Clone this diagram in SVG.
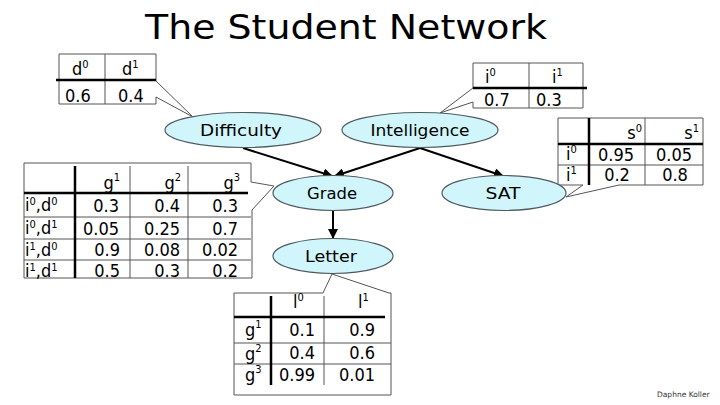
<svg xmlns="http://www.w3.org/2000/svg" width="720" height="405" viewBox="0 0 720 405">
<style>
.title{font-family:"DejaVu Sans","Noto Sans",sans-serif;font-size:34px;fill:#000}
.node ellipse{fill:#d0f5fa;stroke:#4f5a60;stroke-width:1.2}
.lbl{font-family:"DejaVu Sans","Noto Sans",sans-serif;font-size:16.5px;fill:#000;text-anchor:middle}
.box{fill:#fff;stroke:#555;stroke-width:1}
.thick{stroke:#000;stroke-width:2.5;fill:none}
.thin{stroke:#555;stroke-width:1;fill:none}
.t{font-family:"DejaVu Sans Condensed","DejaVu Sans","Noto Sans",sans-serif;font-stretch:condensed;font-size:18px;fill:#000}
.e{text-anchor:end}
.m{text-anchor:middle}
.sup{font-size:11px}
.edge{stroke:#000;stroke-width:2;fill:none;marker-end:url(#ah)}
.credit{font-family:"DejaVu Sans","Noto Sans",sans-serif;font-size:7.5px;fill:#333}
</style>
<defs>
<marker id="ah" viewBox="0 0 10 10" refX="9" refY="5" markerWidth="5" markerHeight="5" orient="auto" markerUnits="strokeWidth">
<path d="M0,0 L10,5 L0,10 Z" fill="#000"/>
</marker>
</defs>
<rect width="720" height="405" fill="#fff"/>
<text class="title" x="145" y="39" textLength="402" lengthAdjust="spacingAndGlyphs">The Student Network</text>

<g id="connectors">
<line class="edge" x1="243" y1="148" x2="332" y2="176"/>
<line class="edge" x1="420" y1="148" x2="335" y2="176"/>
<line class="edge" x1="420" y1="148" x2="503" y2="176"/>
<line class="edge" x1="333" y1="211" x2="333" y2="238"/>
</g>

<g id="cpd-difficulty">
<path class="box" d="M59,54 H156 V81 L193,117 L156,97 V104 H59 Z"/>
<line class="thin" x1="105" y1="54" x2="105" y2="104"/>
<line class="thick" x1="56" y1="80" x2="156" y2="80"/>
<text class="t" x="72" y="75">d<tspan class="sup" dy="-7">0</tspan></text>
<text class="t" x="122" y="75">d<tspan class="sup" dy="-7">1</tspan></text>
<text class="t" x="65" y="102">0.6</text>
<text class="t" x="118" y="102">0.4</text>
</g>

<g id="cpd-intelligence">
<path class="box" d="M473,63 H583 V108 H473 V102 L440,113 L473,88 Z"/>
<line class="thin" x1="529" y1="63" x2="529" y2="108"/>
<line class="thick" x1="473" y1="88" x2="587" y2="88"/>
<text class="t" x="485" y="83">i<tspan class="sup" dy="-7">0</tspan></text>
<text class="t" x="552" y="83">i<tspan class="sup" dy="-7">1</tspan></text>
<text class="t" x="484" y="106">0.7</text>
<text class="t" x="536" y="106">0.3</text>
</g>

<g id="cpd-sat">
<path class="box" d="M558,118 H703 V185 H619 L566,197 L583,185 H558 Z"/>
<line class="thin" x1="645" y1="118" x2="645" y2="185"/>
<line class="thin" x1="558" y1="165" x2="703" y2="165"/>
<line class="thick" x1="589" y1="118" x2="589" y2="185"/>
<line class="thick" x1="558" y1="144" x2="703" y2="144"/>
<text class="t e" x="642" y="139">s<tspan class="sup" dy="-7">0</tspan></text>
<text class="t e" x="699" y="139">s<tspan class="sup" dy="-7">1</tspan></text>
<text class="t" x="566" y="160">i<tspan class="sup" dy="-7">0</tspan></text>
<text class="t" x="566" y="181">i<tspan class="sup" dy="-7">1</tspan></text>
<text class="t m" x="616" y="161">0.95</text>
<text class="t m" x="674" y="161">0.05</text>
<text class="t m" x="617" y="181">0.2</text>
<text class="t m" x="675" y="181">0.8</text>
</g>

<g id="cpd-grade">
<path class="box" d="M24,163 H251 V182 L274,186 L252,210 V278 H24 Z"/>
<line class="thin" x1="130" y1="166" x2="130" y2="278"/>
<line class="thin" x1="188" y1="166" x2="188" y2="278"/>
<line class="thin" x1="24" y1="217" x2="251" y2="217"/>
<line class="thin" x1="24" y1="239" x2="251" y2="239"/>
<line class="thin" x1="24" y1="260" x2="251" y2="260"/>
<line class="thick" x1="75" y1="166" x2="75" y2="278"/>
<line class="thick" x1="24" y1="193" x2="248" y2="193"/>
<text class="t e" x="120" y="189">g<tspan class="sup" dy="-8">1</tspan></text>
<text class="t e" x="181" y="189">g<tspan class="sup" dy="-8">2</tspan></text>
<text class="t e" x="240" y="189">g<tspan class="sup" dy="-8">3</tspan></text>
<text class="t" x="25" y="211" font-size="16">i<tspan class="sup" dy="-6">0</tspan><tspan dy="6">,d</tspan><tspan class="sup" dy="-6">0</tspan></text>
<text class="t" x="25" y="234" font-size="16">i<tspan class="sup" dy="-6">0</tspan><tspan dy="6">,d</tspan><tspan class="sup" dy="-6">1</tspan></text>
<text class="t" x="25" y="256" font-size="16">i<tspan class="sup" dy="-6">1</tspan><tspan dy="6">,d</tspan><tspan class="sup" dy="-6">0</tspan></text>
<text class="t" x="25" y="277" font-size="16">i<tspan class="sup" dy="-6">1</tspan><tspan dy="6">,d</tspan><tspan class="sup" dy="-6">1</tspan></text>
<text class="t e" x="119" y="212">0.3</text>
<text class="t e" x="180" y="212">0.4</text>
<text class="t e" x="238" y="212">0.3</text>
<text class="t e" x="119" y="235">0.05</text>
<text class="t e" x="180" y="235">0.25</text>
<text class="t e" x="238" y="235">0.7</text>
<text class="t e" x="120" y="256">0.9</text>
<text class="t e" x="180" y="256">0.08</text>
<text class="t e" x="238" y="256">0.02</text>
<text class="t e" x="120" y="277">0.5</text>
<text class="t e" x="180" y="277">0.3</text>
<text class="t e" x="238" y="277">0.2</text>
</g>

<g id="cpd-letter">
<path class="box" d="M234,293 H323 L332,274 L389,293 H391 V395 H234 Z"/>
<line class="thin" x1="324" y1="296" x2="324" y2="385"/>
<line class="thin" x1="234" y1="343" x2="391" y2="343"/>
<line class="thin" x1="234" y1="364" x2="391" y2="364"/>
<line class="thick" x1="271" y1="296" x2="271" y2="385"/>
<line class="thick" x1="234" y1="317" x2="385" y2="317"/>
<text class="t" x="293" y="308">l<tspan class="sup" dy="-7">0</tspan></text>
<text class="t" x="358" y="308">l<tspan class="sup" dy="-7">1</tspan></text>
<text class="t" x="245" y="336" font-size="19">g<tspan class="sup" dy="-8">1</tspan></text>
<text class="t" x="245" y="360" font-size="19">g<tspan class="sup" dy="-8">2</tspan></text>
<text class="t" x="245" y="381" font-size="19">g<tspan class="sup" dy="-8">3</tspan></text>
<text class="t e" x="315" y="336">0.1</text>
<text class="t e" x="375" y="336">0.9</text>
<text class="t e" x="315" y="359">0.4</text>
<text class="t e" x="375" y="359">0.6</text>
<text class="t e" x="315" y="381">0.99</text>
<text class="t e" x="375" y="381">0.01</text>
</g>

<g id="node-difficulty" class="node">
<ellipse cx="243" cy="130" rx="78" ry="17.5"/>
<text class="lbl" x="241" y="136" textLength="82" lengthAdjust="spacingAndGlyphs">Difficulty</text>
</g>
<g id="node-intelligence" class="node">
<ellipse cx="420" cy="130" rx="78" ry="17.5"/>
<text class="lbl" x="420" y="136" textLength="99" lengthAdjust="spacingAndGlyphs">Intelligence</text>
</g>
<g id="node-grade" class="node">
<ellipse cx="333" cy="193" rx="60" ry="17.5"/>
<text class="lbl" x="332" y="199" textLength="50" lengthAdjust="spacingAndGlyphs">Grade</text>
</g>
<g id="node-sat" class="node">
<ellipse cx="504" cy="193" rx="62" ry="17.5"/>
<text class="lbl" x="503" y="199" textLength="35" lengthAdjust="spacingAndGlyphs">SAT</text>
</g>
<g id="node-letter" class="node">
<ellipse cx="333" cy="256" rx="60" ry="17.5"/>
<text class="lbl" x="331" y="262" textLength="52" lengthAdjust="spacingAndGlyphs">Letter</text>
</g>

<text class="credit" x="657" y="397">Daphne Koller</text>
</svg>
